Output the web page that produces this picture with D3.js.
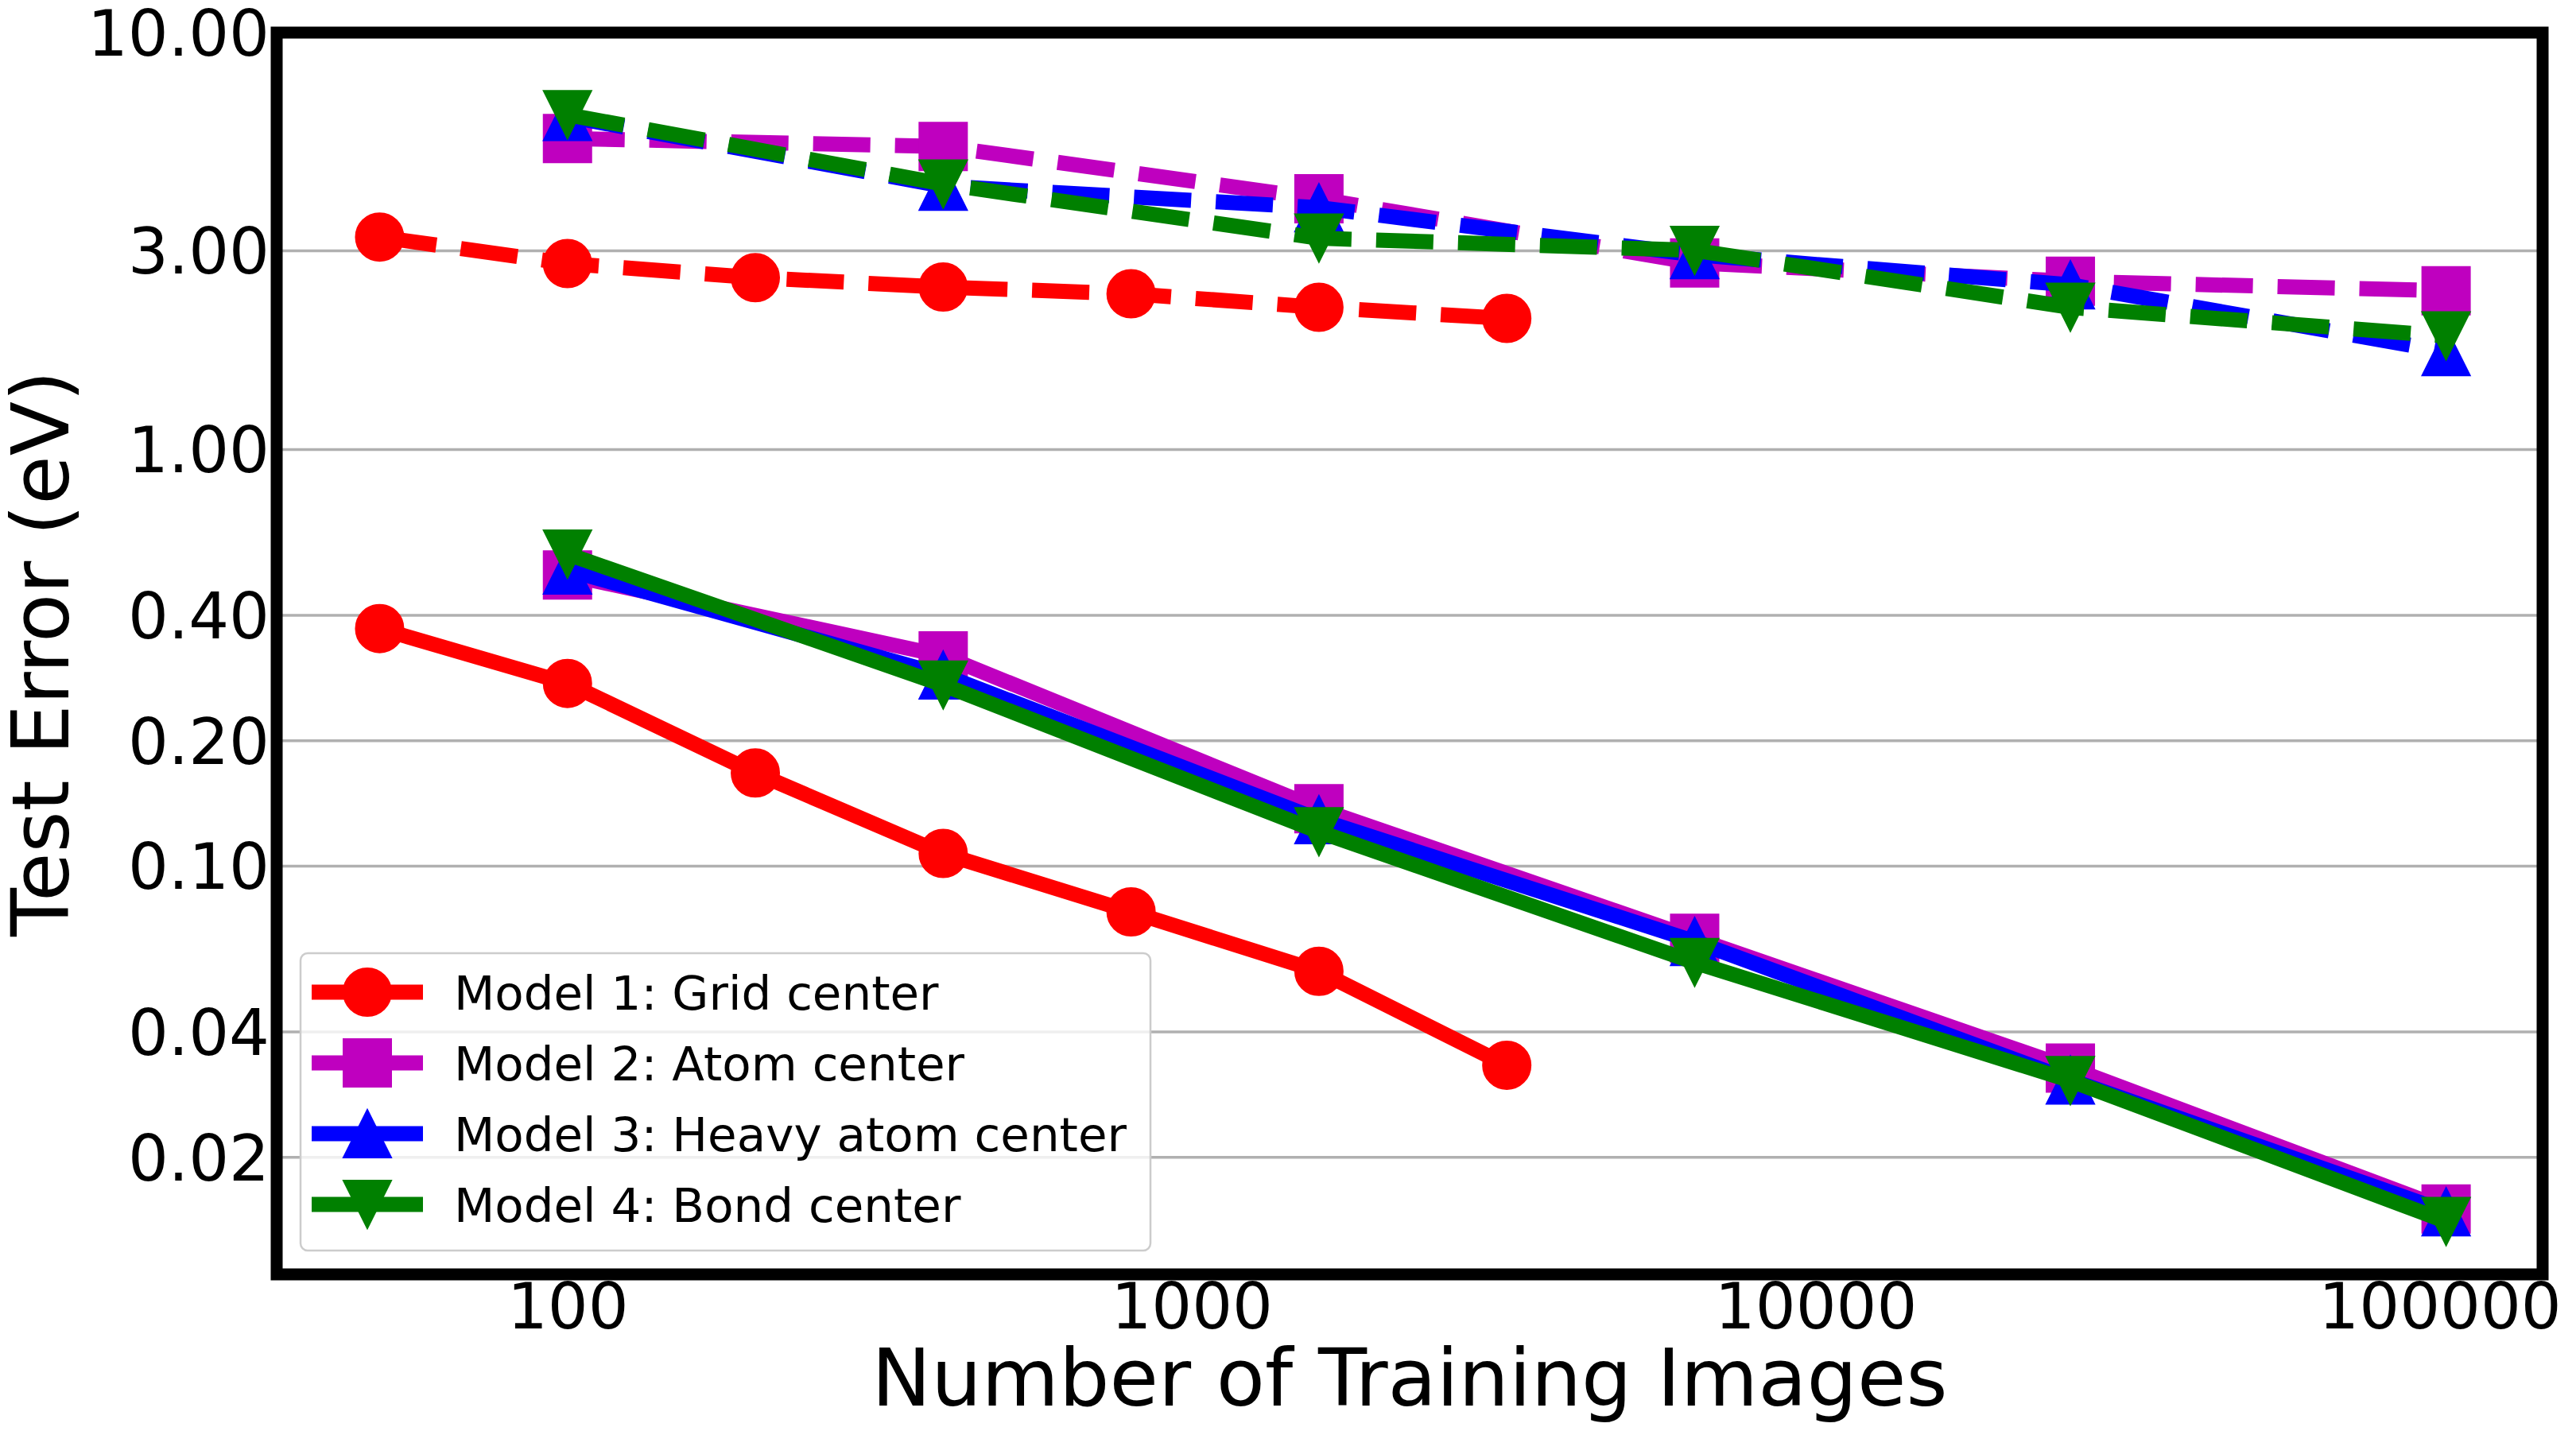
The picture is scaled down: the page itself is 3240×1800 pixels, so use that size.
<!DOCTYPE html>
<html>
<head>
<meta charset="utf-8">
<script src="https://cdn.jsdelivr.net/npm/d3@7"></script>
<style>
  html, body { margin: 0; padding: 0; background: #fff; }
  svg { display: block; font-family: "DejaVu Sans", sans-serif; }
</style>
</head>
<body>
<svg id="chart" width="3240" height="1800"></svg>
<script>
// x positions
const xGrid  = [50, 100, 200, 400, 800, 1600, 3200];
const xAtoms = [100, 400, 1600, 6400, 25600, 102400];

// dashed series
const m1Dash = [3.23, 2.79, 2.58, 2.45, 2.36, 2.19, 2.06];
const m2Dash = [5.57, 5.33, 3.99, 2.80, 2.53, 2.40];
const m3Dash = [6.29, 4.28, 3.80, 2.93, 2.48, 1.715];
const m4Dash = [6.35, 4.33, 3.21, 3.00, 2.19, 1.87];

// solid series
const m1Solid = [0.371, 0.274, 0.167, 0.107, 0.0775, 0.0558, 0.0332];
const m2Solid = [0.499, 0.319, 0.137, 0.067, 0.0327, 0.0150];
const m3Solid = [0.513, 0.287, 0.129, 0.0658, 0.0306, 0.01477];
const m4Solid = [0.560, 0.2716, 0.1207, 0.0586, 0.0305, 0.0140];

const labels  = ['Model 1: Grid center', 'Model 2: Atom center',
                 'Model 3: Heavy atom center', 'Model 4: Bond center'];
const colors  = ['#ff0000', '#bf00bf', '#0000ff', '#008000'];
const markers = ['circle', 'square', 'triUp', 'triDown'];

const yTicks = [10, 3, 1, 0.4, 0.2, 0.1, 0.04, 0.02];
const xTicks = [100, 1000, 10000, 100000];

const models = [
  { x: xGrid,  dash: m1Dash, solid: m1Solid },
  { x: xAtoms, dash: m2Dash, solid: m2Solid },
  { x: xAtoms, dash: m3Dash, solid: m3Solid },
  { x: xAtoms, dash: m4Dash, solid: m4Solid },
];

const box = { left: 348, right: 3198, top: 41, bottom: 1603 };
const LW = 19, MS = 60;

const x = d3.scaleLog().domain([34.2, 146200]).range([box.left, box.right]);
const y = d3.scaleLog().domain([0.01045, 10]).range([box.bottom, box.top]);

const svg = d3.select('#chart');
svg.append('rect').attr('width', 3240).attr('height', 1800).attr('fill', '#fff');

// horizontal grid
svg.append('g')
  .attr('transform', `translate(${box.left},0)`)
  .call(d3.axisLeft(y).tickValues(yTicks.slice(1)).tickSize(-(box.right - box.left)).tickFormat(''))
  .call(g => g.select('.domain').remove())
  .call(g => g.selectAll('line').attr('stroke', '#b0b0b0').attr('stroke-width', 3.5));

function markerPath(kind) {
  const h = MS / 2;
  if (kind === 'circle') return d3.symbol(d3.symbolCircle, Math.PI * h * h)();
  if (kind === 'square') return `M${-h},${-h}H${h}V${h}H${-h}Z`;
  if (kind === 'triUp') return `M0,${-h}L${h},${h}L${-h},${h}Z`;
  return `M0,${h}L${h},${-h}L${-h},${-h}Z`;
}

const plot = svg.append('g');
const line = d3.line().x(d => x(d[0])).y(d => y(d[1]));

function drawSeries(xs, ys, color, kind, dashed) {
  const pts = xs.map((v, i) => [v, ys[i]]);
  plot.append('path')
    .attr('d', line(pts))
    .attr('fill', 'none')
    .attr('stroke', color)
    .attr('stroke-width', LW)
    .attr('stroke-linejoin', 'round')
    .attr('stroke-linecap', dashed ? 'butt' : 'square')
    .attr('stroke-dasharray', dashed ? '72,31' : null);
  plot.append('g').selectAll('path')
    .data(pts)
    .join('path')
    .attr('transform', d => `translate(${x(d[0])},${y(d[1])})`)
    .attr('d', markerPath(kind))
    .attr('fill', color)
    .attr('stroke', color)
    .attr('stroke-width', 2);
}

models.forEach((m, i) => {
  drawSeries(m.x, m.dash, colors[i], markers[i], true);
  drawSeries(m.x, m.solid, colors[i], markers[i], false);
});

// frame
svg.append('rect')
  .attr('x', box.left).attr('y', box.top)
  .attr('width', box.right - box.left).attr('height', box.bottom - box.top)
  .attr('fill', 'none').attr('stroke', '#000').attr('stroke-width', 15);

// axes
svg.append('g')
  .attr('transform', `translate(${box.left},0)`)
  .call(d3.axisLeft(y).tickValues(yTicks).tickSize(0).tickPadding(9).tickFormat(d3.format('.2f')))
  .call(g => g.select('.domain').remove())
  .call(g => g.selectAll('text').attr('font-size', 80).attr('fill', '#000')
    .attr('font-family', '"DejaVu Sans", sans-serif').attr('dy', '0.36em'));

svg.append('g')
  .attr('transform', `translate(0,${box.bottom})`)
  .call(d3.axisBottom(x).tickValues(xTicks).tickSize(0).tickPadding(11).tickFormat(d3.format('d')))
  .call(g => g.select('.domain').remove())
  .call(g => g.selectAll('text').attr('font-size', 80).attr('fill', '#000')
    .attr('font-family', '"DejaVu Sans", sans-serif'));

svg.append('text')
  .attr('x', (box.left + box.right) / 2).attr('y', 1768)
  .attr('text-anchor', 'middle').attr('font-size', 100)
  .text('Number of Training Images');

svg.append('text')
  .attr('transform', `translate(86,${(box.top + box.bottom) / 2}) rotate(-90)`)
  .attr('text-anchor', 'middle').attr('font-size', 100)
  .text('Test Error (eV)');

// legend
const leg = svg.append('g');
leg.append('rect')
  .attr('x', 378).attr('y', 1199).attr('width', 1069).attr('height', 374)
  .attr('rx', 9)
  .attr('fill', '#fff').attr('fill-opacity', 0.8)
  .attr('stroke', '#cccccc').attr('stroke-width', 2.5);

const rowY = d3.scaleLinear().domain([0, 3]).range([1248, 1515]);
labels.forEach((lab, i) => {
  const ry = rowY(i);
  leg.append('line')
    .attr('x1', 392).attr('x2', 532).attr('y1', ry).attr('y2', ry)
    .attr('stroke', colors[i]).attr('stroke-width', LW);
  leg.append('path')
    .attr('transform', `translate(462,${ry})`)
    .attr('d', markerPath(markers[i]))
    .attr('fill', colors[i]).attr('stroke', colors[i]).attr('stroke-width', 2);
  leg.append('text')
    .attr('x', 571).attr('y', ry + 22)
    .attr('font-size', 59.5)
    .text(lab);
});
</script>
</body>
</html>
